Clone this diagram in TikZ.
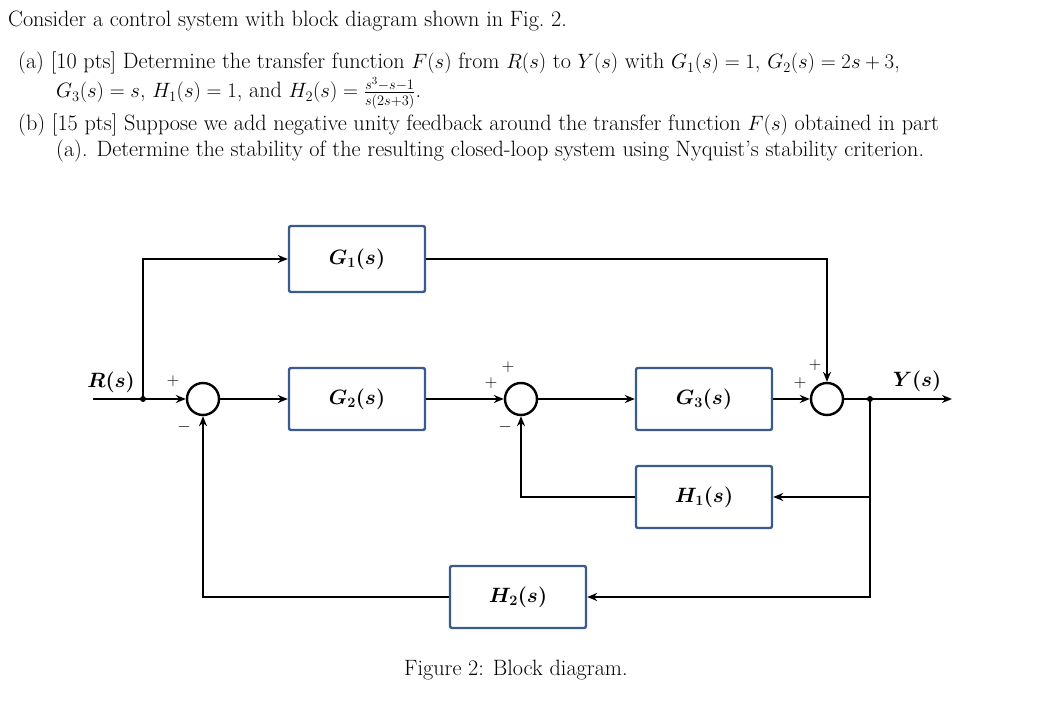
\documentclass[tikz,border=0pt]{standalone}
\usepackage{amsmath,bm}
\usetikzlibrary{arrows.meta}
\definecolor{bb}{HTML}{3B5A8E}
\begin{document}
\begin{tikzpicture}[x=1pt,y=-1pt,
 blk/.style={draw=bb,line width=2.4pt,rounded corners=2pt,minimum width=136pt,minimum height=62pt,inner sep=0pt,font=\fontsize{21}{21}\selectfont},
 sm/.style={draw,circle,line width=2.4pt,minimum size=32pt,inner sep=0pt},
 ln/.style={line width=2.4pt},
 ar/.style={ln,-{Stealth[length=10pt,width=8pt]}},
 sg/.style={font=\fontsize{17}{17}\selectfont,inner sep=0pt},
 txt/.style={anchor=base west,inner sep=0pt,font=\fontsize{22.2}{27}\selectfont},
 bl/.style={font=\fontsize{21}{21}\selectfont}]
\useasboundingbox (0,0) rectangle (1050,703);
\node[txt] (t0) at (8,27) {Consider a control system with block diagram shown in Fig.~2.};
\node[txt] (t1) at (18,69) {(a) [10 pts] Determine the transfer function $F(s)$ from $R(s)$ to $Y(s)$ with $G_1(s)=1$, $G_2(s)=2s+3$,};
\node[txt] (t2) at (56,98) {$G_3(s)=s$, $H_1(s)=1$, and $H_2(s)=\frac{s^3-s-1}{s(2s+3)}$.};
\node[txt] (t3) at (18,131) {(b) [15 pts] Suppose we add negative unity feedback around the transfer function $F(s)$ obtained in part};
\node[txt] (t4) at (56,157) {(a). Determine the stability of the resulting closed-loop system using Nyquist's stability criterion.};
\node[txt] (cap) at (404,675) {Figure 2: Block diagram.};

\node[blk,minimum height=66pt] (G1) at (357,259) {$\bm{G_1(s)}$};
\node[blk] (G2) at (357,399) {$\bm{G_2(s)}$};
\node[blk] (G3) at (704,399) {$\bm{G_3(s)}$};
\node[blk] (H1) at (704,497) {$\bm{H_1(s)}$};
\node[blk] (H2) at (518,597) {$\bm{H_2(s)}$};
\node[sm] (S1) at (203,399) {};
\node[sm] (S2) at (521,399) {};
\node[sm] (S3) at (827,399) {};
\node[bl] (R) at (111,382) {$\bm{R(s)}$};
\node[bl] (Y) at (917,381) {$\bm{Y(s)}$};
\node[sg] (p1) at (173,381) {$+$};
\node[sg] (m1) at (184,427) {$-$};
\node[sg] (p2a) at (508,367) {$+$};
\node[sg] (p2b) at (491,383) {$+$};
\node[sg] (m2) at (505,427) {$-$};
\node[sg] (p3a) at (815,365) {$+$};
\node[sg] (p3b) at (800,383) {$+$};

\coordinate (in) at (93,399);
\coordinate (b1) at (143,399);
\coordinate (out) at (952,399);
\coordinate (b2) at (870,399);
\fill (b1) circle (3pt);
\fill (b2) circle (3pt);
\draw[ar] (in) -- (S1.west);
\draw[ar] (b1) |- (G1.west);
\draw[ar] (G1.east) -| (S3.north);
\draw[ar] (S1.east) -- (G2.west);
\draw[ar] (G2.east) -- (S2.west);
\draw[ar] (S2.east) -- (G3.west);
\draw[ar] (G3.east) -- (S3.west);
\draw[ar] (S3.east) -- (out);
\draw[ar] (b2) |- (H1.east);
\draw[ar] (b2) |- (H2.east);
\draw[ar] (H1.west) -| (S2.south);
\draw[ar] (H2.west) -| (S1.south);
\end{tikzpicture}
\end{document}
